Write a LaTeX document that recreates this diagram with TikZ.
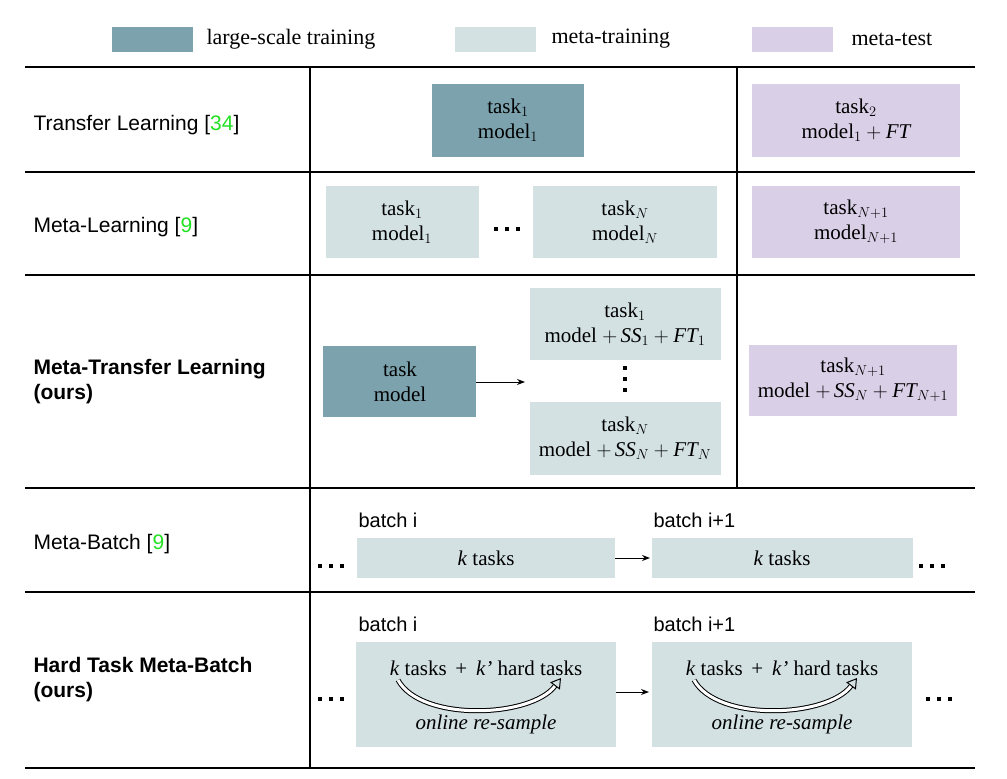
\documentclass[tikz,border=0pt]{standalone}
\usepackage{fontspec}
\setmainfont{Liberation Serif}
\newfontfamily\lsans{Liberation Sans}
\usetikzlibrary{arrows.meta}
\definecolor{dk}{HTML}{7BA2AD}
\definecolor{lt}{HTML}{D3E1E3}
\definecolor{pu}{HTML}{D9CFE7}
\definecolor{gr}{HTML}{22E022}
\begin{document}
\begin{tikzpicture}[x=1pt,y=-1pt,
  every node/.style={font=\fontsize{21}{25}\selectfont},
  box/.style={draw=none,align=center,inner sep=0},
  lab/.style={anchor=west,font=\lsans\fontsize{21}{25}\selectfont,align=left},
  thick line/.style={line width=2.2pt},
  thin line/.style={line width=1.2pt},
  dot/.style={fill=black,minimum size=3.6pt,inner sep=0,shape=rectangle},
  arr/.style={-{Stealth[length=8pt]},line width=1pt}]
\useasboundingbox (0,0) rectangle (1007,779);
% legend
\fill[dk] (112,27) rectangle (193,52);
\node[anchor=west,font=\fontsize{22}{26}\selectfont] (l1) at (203,39) {large-scale training};
\fill[lt] (455,27) rectangle (536,52);
\node[anchor=west,font=\fontsize{22}{26}\selectfont] (l2) at (548,39) {meta-training};
\fill[pu] (752,27) rectangle (833,52);
\node[anchor=west,font=\fontsize{22}{26}\selectfont] (l3) at (848,39) {meta-test};
% grid
\draw[thick line] (25,67) -- (975,67);
\draw[thin line] (25,172) -- (975,172);
\draw[thin line] (25,275) -- (975,275);
\draw[thick line] (25,488) -- (975,488);
\draw[thin line] (25,592) -- (975,592);
\draw[thick line] (25,768) -- (975,768);
\draw[thin line] (310,67) -- (310,768);
\draw[thin line] (737,67) -- (737,488);
% labels
\node[lab] (r1) at (30,125) {Transfer Learning [\textcolor{gr}{34}]};
\node[lab] (r2) at (30,227) {Meta-Learning [\textcolor{gr}{9}]};
\node[lab] (r3) at (30,382) {\bfseries Meta-Transfer Learning\\\bfseries (ours)};
\node[lab] (r4) at (30,544) {Meta-Batch [\textcolor{gr}{9}]};
\node[lab] (r5) at (30,680) {\bfseries Hard Task Meta-Batch\\\bfseries (ours)};
% row1
\fill[dk] (432,84) rectangle (584,157);
\node[box] (a1) at (508,120) {task$_1$\\model$_1$};
\fill[pu] (752,84) rectangle (960,157);
\node[box] (a2) at (856,120) {task$_2$\\model$_1+\mathit{FT}$};
% row2
\fill[lt] (326,186) rectangle (479,258);
\node[box] (b1) at (402,222) {task$_1$\\model$_1$};
\foreach \x in {496,507,518} \node[dot] at (\x,229) {};
\fill[lt] (533,186) rectangle (717,258);
\node[box] (b2) at (625,222) {task$_N$\\model$_N$};
\fill[pu] (752,186) rectangle (960,258);
\node[box] (b3) at (856,222) {task$_{N+1}$\\model$_{N+1}$};
% row3
\fill[dk] (323,346) rectangle (476,417);
\node[box] (c0) at (400,382) {task\\model};
\fill[lt] (530,288) rectangle (721,360);
\node[box] (c1) at (625,324) {task$_1$\\model $+\,\mathit{SS}_1+\mathit{FT}_1$};
\foreach \y in {368,379,390} \node[dot] at (625,\y) {};
\fill[lt] (530,402) rectangle (721,475);
\node[box] (c2) at (625,438) {task$_N$\\model $+\,\mathit{SS}_N+\mathit{FT}_N$};
\fill[pu] (749,345) rectangle (957,416);
\node[box] (c3) at (853,380) {task$_{N+1}$\\model $+\,\mathit{SS}_N+\mathit{FT}_{N+1}$};
\coordinate (ce) at (476,382);
\coordinate (cf) at (525,382);
\draw[arr] (ce) -- (cf);
% row4
\node[anchor=west,font=\lsans\fontsize{20}{24}\selectfont] (d1l) at (355,520) {batch i};
\node[anchor=west,font=\lsans\fontsize{20}{24}\selectfont] (d2l) at (650,520) {batch i+1};
\fill[lt] (357,538) rectangle (615,578);
\node[box] (d1) at (486,558) {\textit{k} tasks};
\fill[lt] (652,538) rectangle (913,578);
\node[box] (d2) at (782,558) {\textit{k} tasks};
\coordinate (d1e) at (615,558);
\coordinate (d2s) at (650,558);
\draw[arr] (d1e) -- (d2s);
\foreach \x in {320,331,342,921,932,943} \node[dot] at (\x,566) {};
% row5
\node[anchor=west,font=\lsans\fontsize{20}{24}\selectfont] (e1l) at (355,624) {batch i};
\node[anchor=west,font=\lsans\fontsize{20}{24}\selectfont] (e2l) at (650,624) {batch i+1};
\foreach \x/\n in {356/e1,652/e2}{
  \fill[lt] (\x,642) rectangle (\x+260,747);
  \node[box] (\n t) at (\x+130,668) {\textit{k} tasks \,+\, \textit{k'} hard tasks};
  \node[box] (\n o) at (\x+130,724) {\textit{online re-sample}};
  \coordinate (\n a) at (\x+42,680);
  \coordinate (\n b) at (\x+205,678);
  \draw[double=white,double distance=3pt,line width=1pt,-{Triangle[open,length=10pt,width=12pt]}]
    (\n a) .. controls (\x+65,722) and (\x+175,718) .. (\n b);
}
\coordinate (e1e) at (616,692);
\coordinate (e2s) at (649,692);
\draw[arr] (e1e) -- (e2s);
\foreach \x in {320,331,342,928,939,950} \node[dot] at (\x,699) {};
\end{tikzpicture}
\end{document}
